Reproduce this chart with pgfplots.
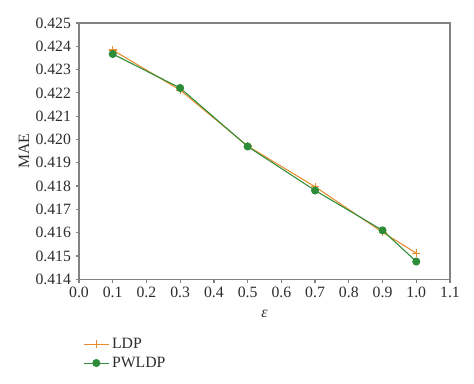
\documentclass[border=0pt]{standalone}
\usepackage{fontspec}
\setmainfont{Liberation Serif}
\usepackage{pgfplots}
\pgfplotsset{compat=1.18}
\definecolor{ldp}{RGB}{232,140,45}
\definecolor{pw}{RGB}{45,140,55}
\definecolor{axgray}{RGB}{130,130,130}
\definecolor{txt}{RGB}{45,45,45}
\begin{document}
\begin{tikzpicture}
\begin{axis}[
  scale only axis,
  width=278pt, height=192pt,
  xmin=0, xmax=1.1, ymin=0.414, ymax=0.425,
  xtick={0,0.1,...,1.1},
  ytick={0.414,0.415,...,0.4251},
  xticklabel style={/pgf/number format/.cd,fixed,fixed zerofill,precision=1},
  yticklabel style={/pgf/number format/.cd,fixed,fixed zerofill,precision=3},
  /pgf/number format/assume math mode=true,
  tick label style={font=\fontsize{11.8}{13}\selectfont, text=txt},
  label style={font=\fontsize{11.8}{13}\selectfont, text=txt},
  axis line style={axgray, line width=0.9pt},
  tick style={axgray, line width=0.9pt},
  tick align=outside,
  major tick length=2.5pt,
  xtick pos=bottom, ytick pos=left,
  xlabel={\itshape ε}, ylabel={MAE},
  xlabel style={yshift=-2pt},
  ylabel style={yshift=-2pt},
  clip=false,
  legend style={at={(0,-0.207)}, anchor=north west, draw=none, fill=none,
    font=\fontsize{11.8}{13}\selectfont, text=txt, row sep=1pt,
    legend cell align=left},
  legend image code/.code={
    \draw[mark repeat=2,mark phase=2,#1] plot coordinates {(0cm,0cm) (0.33cm,0cm) (0.66cm,0cm)};
  },
]
\addplot[ldp, line width=0.8pt, mark=+, mark size=3pt] coordinates {
(0.1,0.42384) (0.3,0.42212) (0.5,0.41972) (0.7,0.41797) (0.9,0.41602) (1.0,0.41512)};
\addlegendentry{LDP}
\addplot[pw, line width=0.8pt, mark=*, mark size=2.6pt] coordinates {
(0.1,0.42367) (0.3,0.42221) (0.5,0.41970) (0.7,0.41781) (0.9,0.41610) (1.0,0.41476)};
\addlegendentry{PWLDP}
\path (rel axis cs:-0.2129,-0.40625) rectangle (rel axis cs:1.0647,1.0898);
\end{axis}
\end{tikzpicture}
\end{document}
